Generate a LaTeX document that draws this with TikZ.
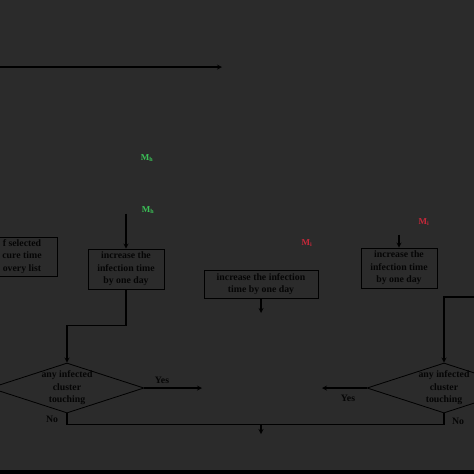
\documentclass[tikz,border=0pt]{standalone}
\usepackage{fontspec}
\setmainfont{Liberation Serif}
\usepackage{tikz}
\usetikzlibrary{shapes.geometric}
\definecolor{bgdark}{HTML}{2B2B2B}
\definecolor{inkdark}{HTML}{050505}
\definecolor{healthygreen}{HTML}{3BC257}
\definecolor{infectedred}{HTML}{C8283A}

\begin{document}
\begin{tikzpicture}[x=1pt, y=-1pt,
    box/.style = {draw = black, line width = 0.8, text = inkdark, align = center,
      inner sep = 1, font = \bfseries\fontsize{9.8}{12.5}\selectfont},
    decide/.style = {draw = black, line width = 0.8, diamond, inner sep = 0,
      minimum width = 154, minimum height = 50},
    txt/.style = {text = inkdark, align = center, font = \bfseries\fontsize{9.8}{12.5}\selectfont},
    flow/.style = {->, >=stealth, line width = 1.2, draw = black},
    healthy/.style = {text = healthygreen, font = \bfseries\fontsize{9}{10}\selectfont},
    infected/.style = {text = infectedred, font = \bfseries\fontsize{9}{10}\selectfont}]
    \useasboundingbox (0, 0) rectangle (474, 474);
    \fill[bgdark] (0, 0) rectangle (474, 474);
    \clip (0, 0) rectangle (474, 474);
    \fill[black] (0, 470) rectangle (474, 474);

    \coordinate (topl) at (-5, 67);
    \coordinate (topr) at (222, 67);
    \draw[flow] (topl) -- (topr);

    \node[healthy] (mh1) at (147, 158) {M\textsubscript{h}};
    \node[healthy] (mh2) at (148, 210) {M\textsubscript{h}};
    \node[infected] (mi1) at (307, 243) {M\textsubscript{i}};
    \node[infected] (mi2) at (424, 222) {M\textsubscript{i}};

    \node[box, minimum width = 70, minimum height = 39] (sel) at (22, 256.5) {f selected\\cure time\\overy list};
    \node[box, minimum width = 76, minimum height = 40] (inc1) at (126, 269) {increase the\\infection time\\by one day};
    \node[box, minimum width = 114, minimum height = 28] (inc2) at (261, 284) {increase the infection\\time by one day};
    \node[box, minimum width = 76, minimum height = 40] (inc3) at (399, 268) {increase the\\infection time\\by one day};

    \draw[flow] ([yshift = 35pt]inc1.north) -- (inc1.north);
    \draw[flow] ([yshift = 13pt]inc3.north) -- (inc3.north);
    \coordinate (down2) at (261, 313);
    \draw[flow] (inc2.south) -- (down2);

    \node[decide] (dec1) at (67, 388) {};
    \node[txt] (q1) at (dec1) {any infected\\cluster\\touching};
    \node[decide] (dec2) at (444, 388) {};
    \node[txt] (q2) at (dec2) {any infected\\cluster\\touching};

    \draw[flow] (inc1.south) -- ++(0, 36) -| (dec1.north);
    \coordinate (rin) at (480, 297);
    \draw[flow] (rin) -| (dec2.north);

    \coordinate (yes1) at (202, 388);
    \draw[flow] (dec1.east) -- (yes1);
    \node[txt] (y1) at (162, 380) {Yes};
    \coordinate (yes2) at (322, 388);
    \draw[flow] (dec2.west) -- (yes2);
    \node[txt] (y2) at (348, 398) {Yes};

    \draw[line width = 1.2] (dec1.south) -- ++(0, 11) -| (dec2.south);
    \node[txt] (n1) at (52, 419) {No};
    \node[txt] (n2) at (458, 421) {No};
    \coordinate (merge) at (261, 424);
    \coordinate (out) at (261, 434);
    \draw[flow] (merge) -- (out);
  \end{tikzpicture}
\end{document}
